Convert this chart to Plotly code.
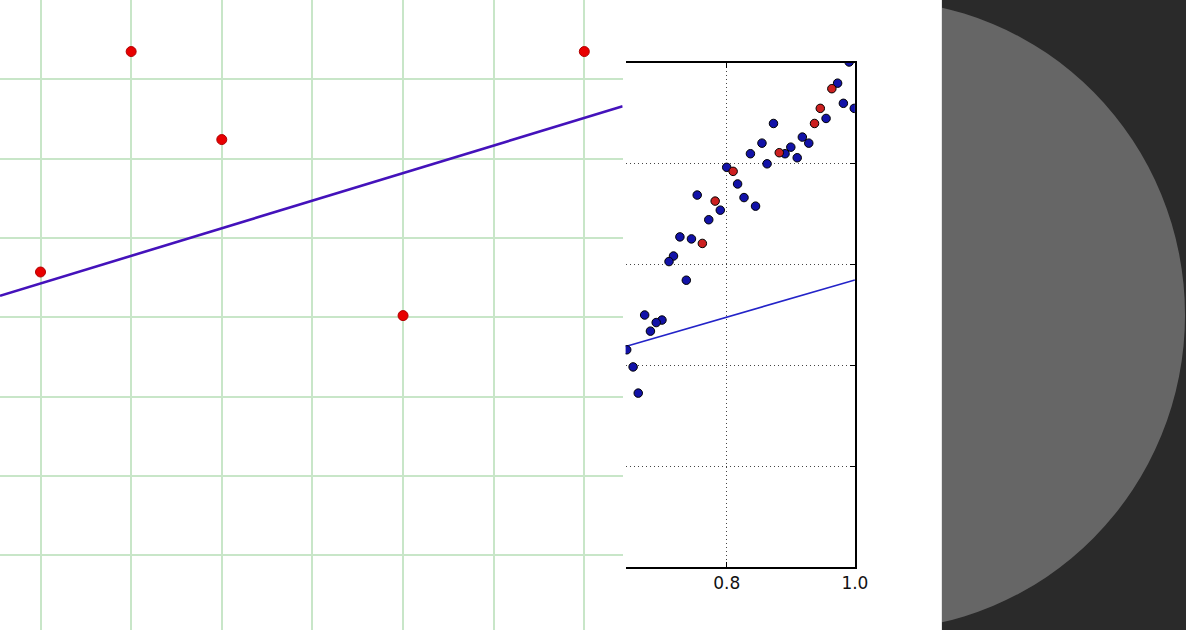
import plotly.graph_objects as go

# ---------------- data ----------------
# left panel (green grid): red points and purple trend line
left_x = [1, 2, 3, 5, 7]
left_y = [4.57, 7.35, 6.24, 4.02, 7.35]
left_line_x = [0.553, 7.423]
left_line_y = [4.27, 6.66]

# middle panel (scatter): blue and red points and a fitted line
blue_x = [0.991, 0.973, 0.982, 0.999, 0.955, 0.873, 0.918, 0.928, 0.855, 0.900,
          0.891, 0.837, 0.910, 0.863, 0.800, 0.817, 0.754, 0.827, 0.845, 0.790,
          0.772, 0.727, 0.745, 0.717, 0.710, 0.737, 0.672, 0.699, 0.690, 0.681,
          0.644, 0.654, 0.662]
blue_y = [1.002, 0.960, 0.920, 0.910, 0.890, 0.880, 0.853, 0.841, 0.841, 0.833,
          0.820, 0.820, 0.812, 0.800, 0.793, 0.760, 0.738, 0.733, 0.716, 0.708,
          0.689, 0.655, 0.651, 0.617, 0.606, 0.569, 0.500, 0.490, 0.485, 0.468,
          0.431, 0.397, 0.345]
red_x = [0.964, 0.946, 0.937, 0.882, 0.810, 0.782, 0.762]
red_y = [0.949, 0.910, 0.880, 0.822, 0.785, 0.726, 0.642]
fit_x = [0.6423, 1.0]
fit_y = [0.4375, 0.5694]

mid_tickvals = [0.8, 1.0]
mid_ticktext = ["0.8", "1.0"]

# ---------------- figure ----------------
W, H = 1200, 630
fig = go.Figure()

# left panel
fig.add_trace(go.Scatter(x=left_line_x, y=left_line_y, mode="lines",
                         line=dict(color="#4412bb", width=2.6),
                         xaxis="x", yaxis="y", showlegend=False))
fig.add_trace(go.Scatter(x=left_x, y=left_y, mode="markers",
                         marker=dict(color="#e80000", size=10,
                                     line=dict(color="#b00000", width=1)),
                         xaxis="x", yaxis="y", showlegend=False))

# middle panel
fig.add_trace(go.Scatter(x=fit_x, y=fit_y, mode="lines",
                         line=dict(color="#2323c8", width=1.6),
                         xaxis="x2", yaxis="y2", showlegend=False))
fig.add_trace(go.Scatter(x=blue_x, y=blue_y, mode="markers",
                         marker=dict(color="#1212a8", size=8.5,
                                     line=dict(color="#000000", width=1)),
                         xaxis="x2", yaxis="y2", showlegend=False))
fig.add_trace(go.Scatter(x=red_x, y=red_y, mode="markers",
                         marker=dict(color="#cc2020", size=8.5,
                                     line=dict(color="#000000", width=1)),
                         xaxis="x2", yaxis="y2", showlegend=False))

# right panel: invisible anchor trace so the axes exist
fig.add_trace(go.Scatter(x=[953, 1200], y=[0, 630], mode="markers",
                         marker=dict(opacity=0), hoverinfo="skip",
                         xaxis="x3", yaxis="y3", showlegend=False))

green = "#c8e6c8"
fig.update_layout(
    width=W, height=H, autosize=False,
    margin=dict(l=0, r=0, t=0, b=0),
    paper_bgcolor="white", plot_bgcolor="white",
    xaxis=dict(domain=[0, 630 / W], range=[0.553, 7.423], dtick=1, tick0=0,
               showgrid=True, gridcolor=green, gridwidth=2, zeroline=False,
               showticklabels=False, ticks="", showline=False, fixedrange=True),
    yaxis=dict(domain=[0, 1], range=[0.0555, 8], dtick=1, tick0=0,
               showgrid=True, gridcolor=green, gridwidth=2, zeroline=False,
               showticklabels=False, ticks="", showline=False, fixedrange=True),
    xaxis2=dict(domain=[633 / W, 865 / W], range=[0.6423, 1.0], anchor="y2",
                tickmode="array", tickvals=mid_tickvals, ticktext=mid_ticktext,
                showgrid=True, gridcolor="#444444", gridwidth=1, griddash="1px,3px",
                zeroline=False, showline=True, linecolor="black", linewidth=1.5,
                mirror="allticks", ticks="inside", ticklen=5, tickcolor="black",
                tickfont=dict(family="DejaVu Sans", size=17, color="#111111")),
    yaxis2=dict(domain=[0.1, 0.9], range=[0, 1], anchor="x2", side="right",
                dtick=0.2, tick0=0,
                showgrid=True, gridcolor="#444444", gridwidth=1, griddash="1px,3px",
                zeroline=False, showline=True, linecolor="black", linewidth=1.5,
                mirror=False, ticks="inside", ticklen=5, tickcolor="black",
                showticklabels=False),
    xaxis3=dict(domain=[953 / W, 1], range=[953, 1200], anchor="y3",
                visible=False, fixedrange=True),
    yaxis3=dict(domain=[0, 1], range=[0, 630], anchor="x3",
                visible=False, fixedrange=True),
    shapes=[
        dict(type="rect", xref="x3 domain", yref="y3 domain", x0=0, x1=1, y0=0, y1=1,
             fillcolor="#2a2a2a", line=dict(width=0), layer="below"),
        dict(type="circle", xref="x3", yref="y3", x0=569, x1=1199, y0=0, y1=630,
             fillcolor="#666666", line=dict(width=0), layer="below"),
    ],
)

page_fix = (
    "var st=document.createElement('style');"
    "st.textContent='html,body{margin:0;padding:0;overflow:hidden;width:1200px;height:630px;}"
    "::-webkit-scrollbar{display:none;width:0;height:0;}"
    ".plotly-graph-div{position:fixed;left:0;top:0;}';"
    "document.head.appendChild(st);"
)
fig.write_html("out.html", config={"displayModeBar": False, "responsive": False},
               post_script=page_fix)
